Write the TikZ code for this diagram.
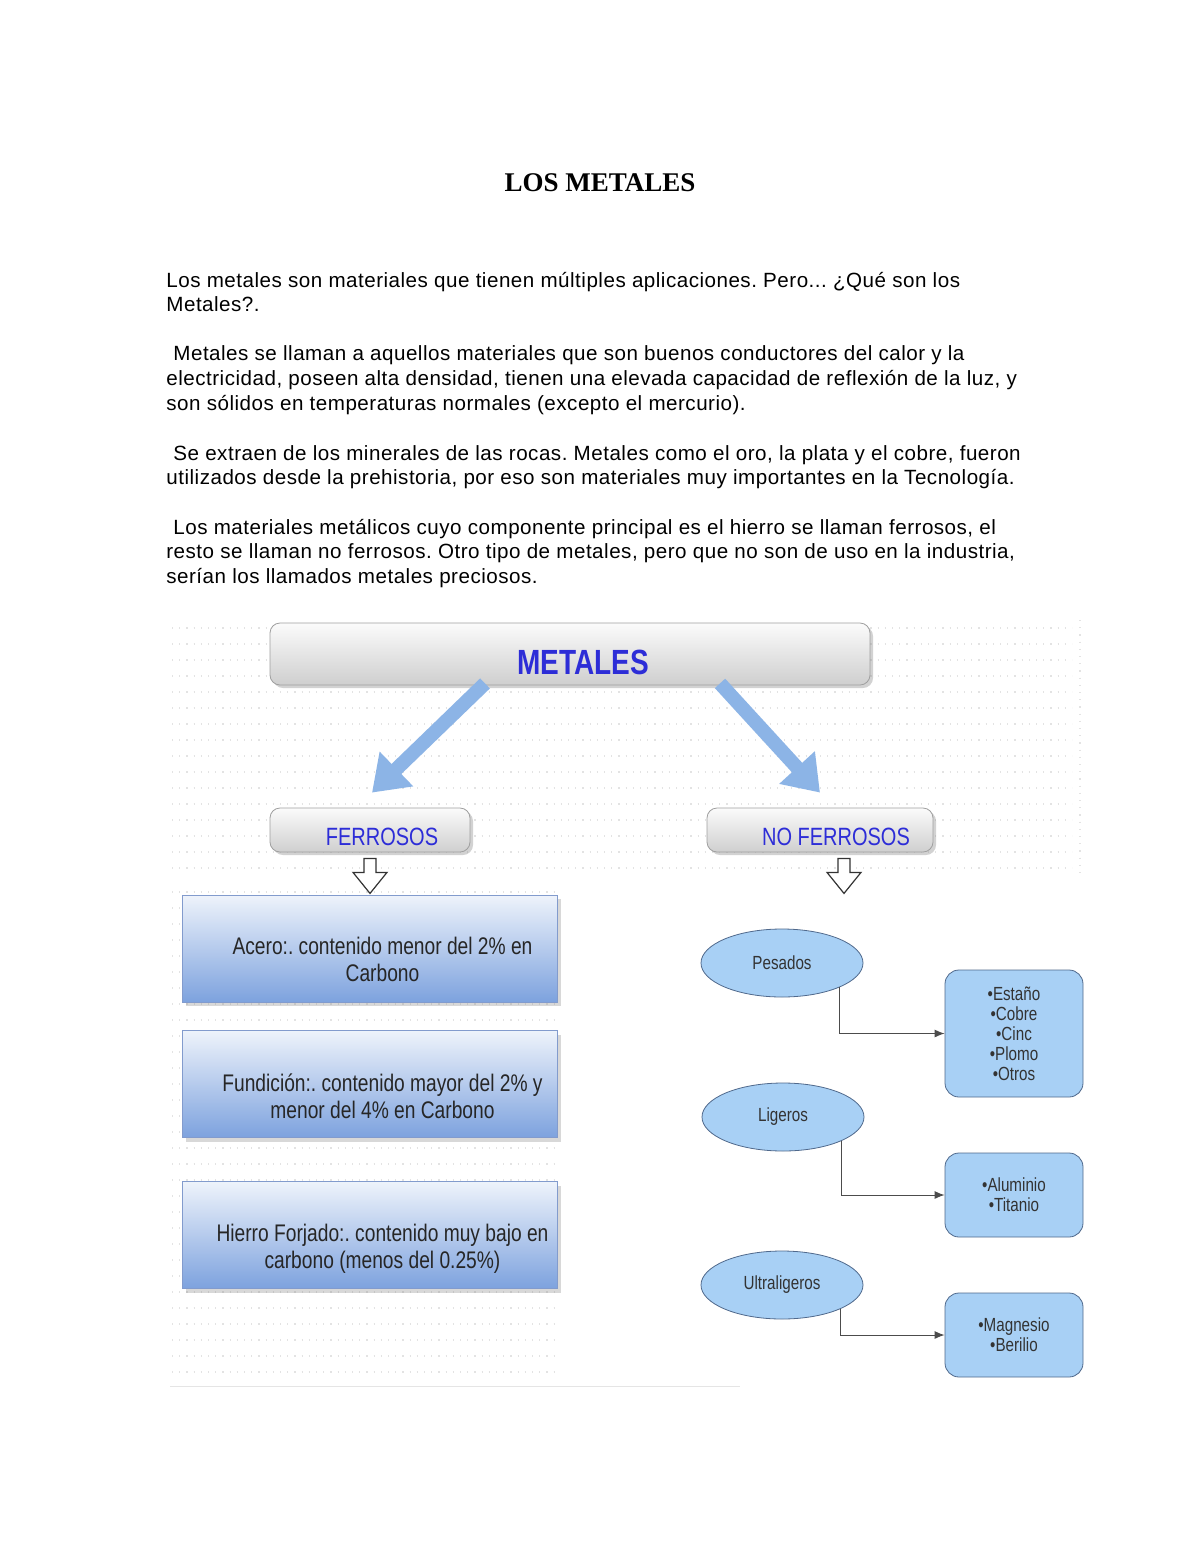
\documentclass[tikz,border=0pt]{standalone}
\usepackage{fontspec}
\setmainfont{Liberation Sans}
\newfontfamily\bodyfont{Liberation Sans}[LetterSpace=2.4]
\newfontfamily\titlefont{Liberation Serif}
\newfontfamily\diagfont{Liberation Sans}[FakeStretch=0.8]
\usetikzlibrary{positioning,calc,shadows,arrows.meta,shapes.geometric}
\frenchspacing

\definecolor{metalblue}{RGB}{45,45,215}
\definecolor{arrowblue}{RGB}{140,180,230}
\definecolor{boxtop}{RGB}{238,243,251}
\definecolor{boxbot}{RGB}{125,162,222}
\definecolor{boxline}{RGB}{130,155,205}
\definecolor{skyfill}{RGB}{168,208,245}
\definecolor{skyline}{RGB}{80,105,140}

\tikzset{
  bodyline/.style={anchor=base west, inner sep=0pt, font=\bodyfont\fontsize{10.3}{12}\selectfont},
  headbox/.style={draw=gray!75, rounded corners=5pt, top color=gray!3, bottom color=gray!38,
    drop shadow={shadow xshift=1.5pt, shadow yshift=-1.5pt, opacity=0.35}},
  headtxt/.style={inner sep=0pt, text=metalblue, font=\diagfont\fontsize{12.5}{14}\selectfont},
  ferrobox/.style={draw=boxline, top color=boxtop, bottom color=boxbot,
    minimum width=187.5pt, minimum height=53.5pt,
    drop shadow={shadow xshift=2pt, shadow yshift=-2pt, opacity=0.3}},
  ferrotxt/.style={inner sep=0pt, align=center, text=black!85,
    font=\diagfont\fontsize{12}{13.5}\selectfont},
  kindell/.style={ellipse, draw=skyline, fill=skyfill, minimum width=81pt, minimum height=34pt,
    inner sep=0pt, text=black!80, font=\diagfont\fontsize{9.5}{10}\selectfont},
  listbox/.style={draw=skyline, fill=skyfill, rounded corners=7pt, minimum width=69pt,
    inner sep=0pt, align=center, text=black!80, font=\diagfont\fontsize{9.5}{10}\selectfont},
  bigarrow/.style={line width=7pt, arrowblue, -{Triangle[width=23pt,length=17pt]}},
  hollowarrow/.style={draw=black!80, fill=white, line width=0.6pt, line join=miter},
  elbow/.style={draw=black!70, line width=0.5pt, -{Latex[length=5pt,width=4pt]}},
  gridline/.style={gray!22, line width=0.6pt, dash pattern=on 0.6pt off 3pt},
}

\begin{document}
\begin{tikzpicture}[x=0.5pt, y=-0.5pt]
  \fill[white] (0,0) rectangle (1200,1553);
  \useasboundingbox (0,0) rectangle (1200,1553);

  % title and text
  \node[font=\titlefont\bfseries\fontsize{13.5}{16}\selectfont] (title) at (600,183) {LOS METALES};

  \node[bodyline] (p1a) at (166,287) {Los metales son materiales que tienen múltiples aplicaciones. Pero... ¿Qué son los};
  \node[bodyline] (p1b) at (166,311) {Metales?.};
  \node[bodyline] (p2a) at (173,360) {Metales se llaman a aquellos materiales que son buenos conductores del calor y la};
  \node[bodyline] (p2b) at (166,385) {electricidad, poseen alta densidad, tienen una elevada capacidad de reflexión de la luz, y};
  \node[bodyline] (p2c) at (166,410) {son sólidos en temperaturas normales (excepto el mercurio).};
  \node[bodyline] (p3a) at (173,460) {Se extraen de los minerales de las rocas. Metales como el oro, la plata y el cobre, fueron};
  \node[bodyline] (p3b) at (166,484) {utilizados desde la prehistoria, por eso son materiales muy importantes en la Tecnología.};
  \node[bodyline] (p4a) at (173,534) {Los materiales metálicos cuyo componente principal es el hierro se llaman ferrosos, el};
  \node[bodyline] (p4b) at (166,558) {resto se llaman no ferrosos. Otro tipo de metales, pero que no son de uso en la industria,};
  \node[bodyline] (p4c) at (166,583) {serían los llamados metales preciosos.};

  % dotted background
  \foreach \y in {628,644,...,876}
    \draw[gridline] (172,\y) -- (1072,\y);
  \foreach \y in {892,908,...,1380}
    \draw[gridline] (172,\y) -- (560,\y);
  \draw[gridline] (1080,620) -- (1080,876);
  \draw[gray!20, line width=0.5pt] (170,1386) -- (740,1386);

  % top of the tree
  \node[headbox, minimum width=300pt, minimum height=31pt] (metales) at (570,654) {};
  \node[headtxt, font=\diagfont\bfseries\fontsize{17.5}{20}\selectfont] (metalestxt)
    at ([xshift=6.5pt,yshift=-4pt]metales.center) {METALES};

  \node[headbox, minimum width=100pt, minimum height=22pt] (ferrosos) at (370,830) {};
  \node[headtxt] (ferrosostxt) at ([xshift=6pt,yshift=-3.5pt]ferrosos.center) {FERROSOS};
  \node[headbox, minimum width=113pt, minimum height=22pt] (noferr) at (820,830) {};
  \node[headtxt] (noferrtxt) at ([xshift=8pt,yshift=-3.5pt]noferr.center) {NO FERROSOS};

  \draw[bigarrow] ([xshift=-42.5pt,yshift=1pt]metales.south) -- ([xshift=1pt,yshift=7.5pt]ferrosos.north);
  \draw[bigarrow] ([xshift=75pt,yshift=1pt]metales.south) -- ([yshift=7.5pt]noferr.north);

  % ferrosos
  \node[ferrobox] (acero) at (369.5,948.5) {};
  \node[ferrotxt] (acerotxt) at ([xshift=6.5pt,yshift=-5.5pt]acero.center)
    {Acero:. contenido menor del 2\% en\\Carbono};
  \node[ferrobox] (fundicion) at (369.5,1084) {};
  \node[ferrotxt] (fundiciontxt) at ([xshift=6.5pt,yshift=-6pt]fundicion.center)
    {Fundición:. contenido mayor del 2\% y\\menor del 4\% en Carbono};
  \node[ferrobox] (forjado) at (369.5,1235) {};
  \node[ferrotxt] (forjadotxt) at ([xshift=6.5pt,yshift=-7pt]forjado.center)
    {Hierro Forjado:. contenido muy bajo en\\carbono (menos del 0.25\%)};

  \draw[hollowarrow] ([yshift=-3pt]ferrosos.south) ++(-6,0) -- ++(0,14) -- ++(-11,0) -- ++(17,21)
    -- ++(17,-21) -- ++(-11,0) -- ++(0,-14) -- cycle;
  \draw[hollowarrow] ([xshift=12pt,yshift=-3pt]noferr.south) ++(-6,0) -- ++(0,14) -- ++(-11,0) -- ++(17,21)
    -- ++(17,-21) -- ++(-11,0) -- ++(0,-14) -- cycle;

  % no ferrosos
  \node[kindell] (pesados) at (782,963) {Pesados};
  \node[kindell] (ligeros) at (783,1117) {Ligeros};
  \node[kindell] (ultra) at (782,1285) {Ultraligeros};

  \node[listbox, minimum height=63.5pt] (pesrect) at (1014,1033.5)
    {•Estaño\\•Cobre\\•Cinc\\•Plomo\\•Otros};
  \node[listbox, minimum height=42pt] (ligrect) at (1014,1195) {•Aluminio\\•Titanio};
  \node[listbox, minimum height=42pt] (ultrect) at (1014,1335) {•Magnesio\\•Berilio};

  \draw[elbow] (pesados.-23) |- (pesrect.west);
  \draw[elbow] (ligeros.-22) |- (ligrect.west);
  \draw[elbow] (ultra.-22) |- (ultrect.west);
\end{tikzpicture}
\end{document}
